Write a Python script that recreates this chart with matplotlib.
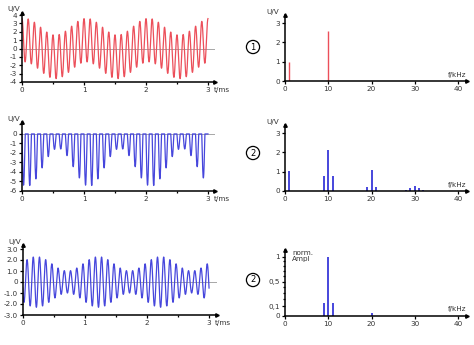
import numpy as np
import matplotlib
matplotlib.use("Agg")
import matplotlib.pyplot as plt

# ---- data ----
# spectrum 1 (sum of two sines)
freq_1 = [1, 10]
ampl_1 = [1.0, 2.6]

# spectrum 2 (half-wave rectified AM signal)
freq_2 = [1, 9, 10, 11, 19, 20, 21, 28, 29, 30, 31, 32]
ampl_2 = [1.03, 0.78, 2.1, 0.78, 0.22, 1.08, 0.22, 0.06, 0.15, 0.25, 0.15, 0.07]

# spectrum 3 (AM signal, normalised)
freq_3 = [9, 10, 11, 20]
ampl_3 = [0.14, 1.0, 0.14, 0.025]

# phases / AM parameters (V, ms)
base1_peak_t = 0.04
env2_mean, env2_swing, env2_peak_t, carrier2_t0 = 3.5, 2.0, 0.08, 0.025
env3_mean, env3_swing, env3_peak_t, carrier3_t0 = 1.65, 0.65, 0.22, 0.02

t_ticks = [0, 1, 2, 3]
f_ticks = [0, 10, 20, 30, 40]

RED = "#ec4f5a"
BLUE = "#4646dc"
TXT = "#333333"
FS = 5.2

plt.rcParams['font.family'] = ['DejaVu Sans']

W, H = 474, 345
fig = plt.figure(figsize=(W / 100, H / 100), dpi=100)


def px_axes(l, t, r, b):
    return fig.add_axes([l / W, 1 - b / H, (r - l) / W, (b - t) / H])


def style(ax):
    for s in ["top", "right"]:
        ax.spines[s].set_visible(False)
    for s in ["left", "bottom"]:
        ax.spines[s].set_linewidth(1.1)
        ax.spines[s].set_color("black")
    ax.tick_params(which="both", direction="out", length=2.5, width=0.9,
                   labelsize=FS, labelcolor=TXT, pad=1)
    ax.tick_params(which="minor", length=1.5)
    ax.set_facecolor("none")
    ax.plot(1, 0, ">", color="black", ms=2.5, transform=ax.transAxes, clip_on=False)
    ax.plot(0, 1, "^", color="black", ms=2.5, transform=ax.transAxes, clip_on=False)


t = np.linspace(0, 3, 4000)
w = 2 * np.pi

# signal 1: synthesised from spectrum 1
u1 = ampl_1[0] * np.cos(w * freq_1[0] * (t - base1_peak_t)) + \
    ampl_1[1] * np.cos(w * freq_1[1] * t)
# signal 2: rectified AM
env2 = env2_mean + env2_swing * np.cos(w * (t - env2_peak_t))
u2 = np.minimum(0, -env2 * np.cos(w * 10 * (t - carrier2_t0)))
# signal 3: AM
env3 = env3_mean + env3_swing * np.cos(w * (t - env3_peak_t))
u3 = -env3 * np.cos(w * 10 * (t - carrier3_t0))


def time_panel(box, u, color, ylim, yticks, ylabels):
    ax = px_axes(*box)
    style(ax)
    ax.axhline(0, color="#999999", lw=0.6, zorder=1)
    ax.plot(t, u, color=color, lw=0.9, zorder=2)
    ax.set_xlim(0, 3.12)
    ax.set_ylim(*ylim)
    ax.set_xticks(t_ticks)
    ax.set_xticklabels(["0", "1", "2", "3"])
    ax.set_xticks([0.5, 1.5, 2.5], minor=True)
    ax.set_yticks(yticks)
    ax.set_yticklabels(ylabels)
    ax.annotate("t/ms", (3.0, 0), xycoords=ax.get_xaxis_transform(),
                xytext=(4, -3.5), textcoords="offset points",
                fontsize=FS, color=TXT, ha="left", va="top")
    ax.text(-0.01, 1.0, "U/V", transform=ax.transAxes, fontsize=FS,
            color=TXT, ha="right", va="bottom")
    return ax


time_panel((22, 12.5, 215.4, 82), u1, RED, (-4, 4.3),
           list(range(-4, 5)), [str(v) for v in range(-4, 5)])
time_panel((22, 121.6, 215.4, 191), u2, BLUE, (-6, 1.3),
           list(range(-6, 2)), [str(v) for v in range(-6, 1)] + [""])
time_panel((22.7, 244.6, 216.5, 315), u3, BLUE, (-3, 3.4),
           [-3, -2, -1, 0, 1, 2, 3],
           ["-3.0", "-2.0", "-1.0", "0", "1.0", "2.0", "3.0"])


def spec_panel(box, freqs, amps, color, lw, ylim, num, cy):
    ax = px_axes(*box)
    style(ax)
    ax.vlines(freqs, 0, amps, color=color, lw=lw)
    ax.set_xlim(0, 42)
    ax.set_ylim(*ylim)
    ax.set_xticks(f_ticks)
    ax.text(1.0, 0.05, "f/kHz", transform=ax.transAxes, fontsize=FS,
            color=TXT, ha="right", va="bottom")
    fig.text(253 / W, 1 - cy / H, num, fontsize=6, ha="center", va="center",
             bbox=dict(boxstyle="circle,pad=0.25", fc="white", ec="black", lw=0.9))
    return ax


ax = spec_panel((285, 15.3, 466.7, 81), freq_1, ampl_1, RED, 1.0, (0, 3.4), "1", 47)
ax.set_yticks([0, 1, 2, 3])
ax.text(-0.03, 1.0, "U/V", transform=ax.transAxes, fontsize=FS, color=TXT,
        ha="right", va="bottom")

ax = spec_panel((285, 125.3, 466.7, 191), freq_2, ampl_2, BLUE, 1.4, (0, 3.4), "2", 153)
ax.set_yticks([0, 1, 2, 3])
ax.text(-0.03, 1.0, "U/V", transform=ax.transAxes, fontsize=FS, color=TXT,
        ha="right", va="bottom")

ax = spec_panel((285, 250.1, 466.7, 315.7), freq_3, ampl_3, BLUE, 1.4, (0, 1.14), "2", 280)
ax.set_yscale("function", functions=(lambda y: np.sign(y) * np.abs(y) ** 0.8,
                                     lambda y: np.sign(y) * np.abs(y) ** 1.25))
ax.set_ylim(0, 1.14)
ax.set_yticks([0, 0.1, 0.5, 1])
ax.set_yticklabels(["0", "0,1", "0,5", "1"])
ax.set_yticks([0.2, 0.3, 0.4, 0.6, 0.7, 0.8, 0.9], minor=True)
ax.set_xticks(f_ticks)
ax.text(0.04, 1.0, "norm.\nAmpl", transform=ax.transAxes, fontsize=FS,
        color=TXT, ha="left", va="top", linespacing=0.95)

fig.savefig("out.png", dpi=100, facecolor="white")
